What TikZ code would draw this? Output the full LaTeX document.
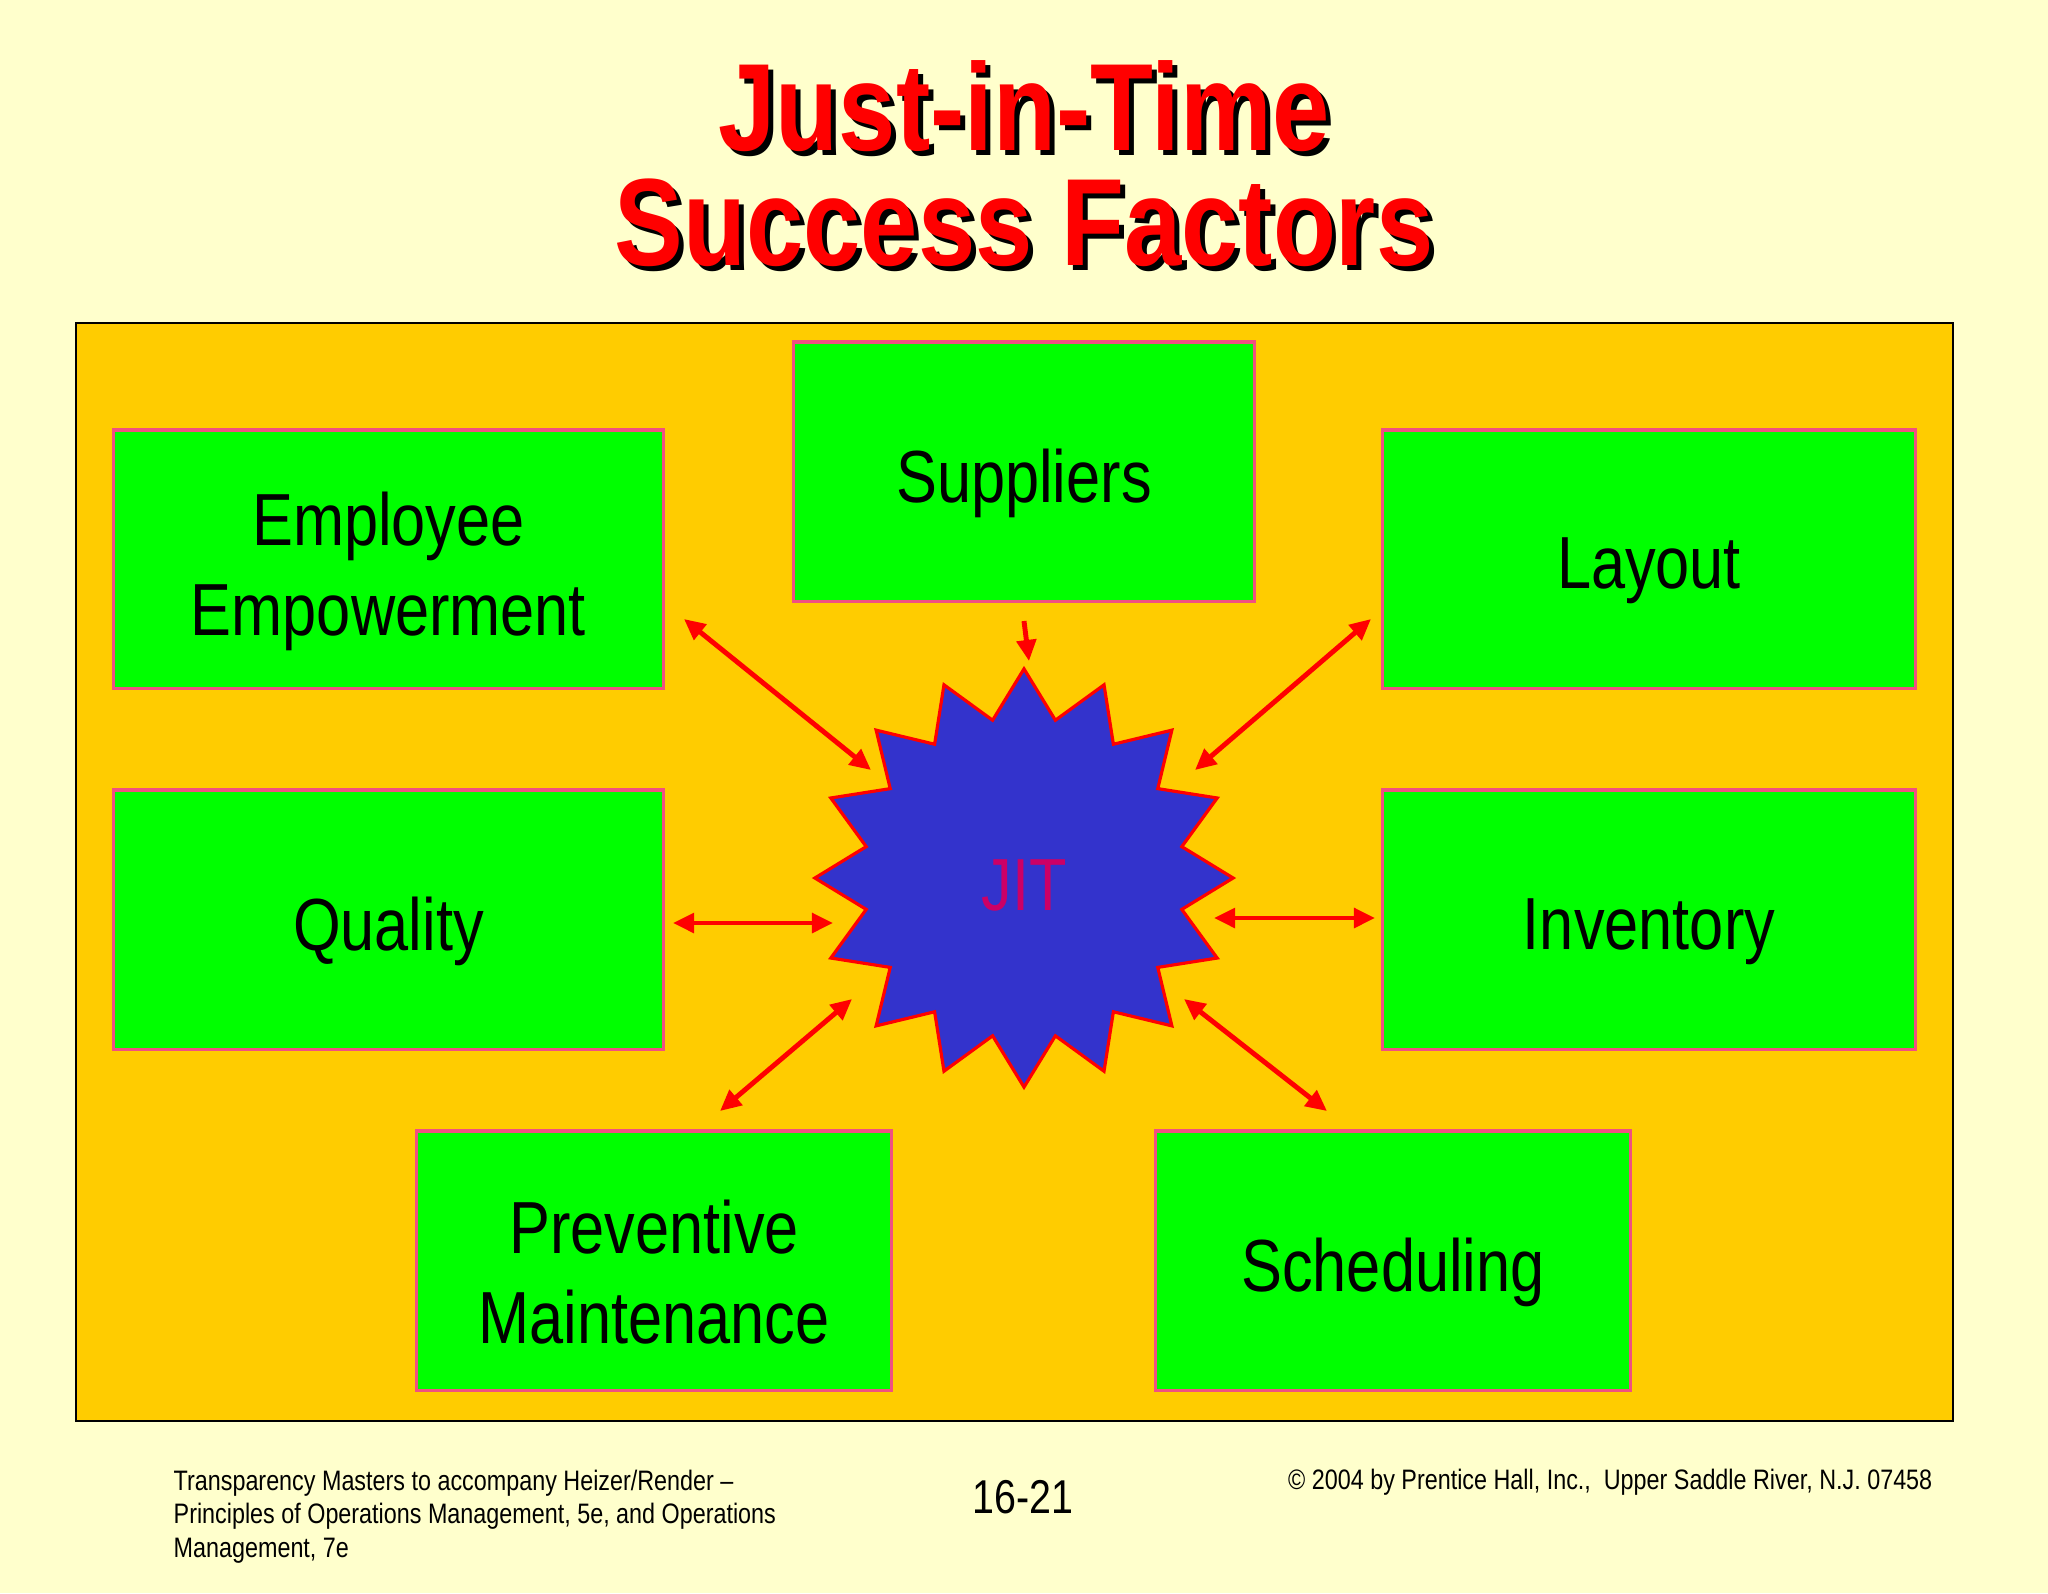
\documentclass[tikz,border=0pt]{standalone}
\usepackage{fontspec}
\setmainfont{Liberation Sans}[FakeStretch=0.83]
\usetikzlibrary{shapes.geometric,arrows.meta}

\definecolor{fond}{RGB}{255,255,204}
\definecolor{panneau}{RGB}{255,204,0}
\definecolor{vert}{RGB}{0,255,0}
\definecolor{bord}{RGB}{240,80,130}
\definecolor{bleu}{RGB}{51,51,204}
\definecolor{rouge}{RGB}{255,0,0}
\definecolor{lettres}{RGB}{204,0,102}

\tikzset{facteur/.style={draw=bord,line width=0.9pt,fill=vert,inner sep=0pt},
  texte/.style={align=center,inner sep=0pt,yshift=-0.12cm,
    font=\fontsize{21}{25.6}\selectfont},
  lien/.style={draw=rouge,line width=1.4pt,{Triangle[length=6pt,width=5.5pt]}-{Triangle[length=6pt,width=5.5pt]}},
  lienun/.style={draw=rouge,line width=1.4pt,-{Triangle[length=6pt,width=5.5pt]}}
}

\begin{document}
\begin{tikzpicture}[x=0.01cm,y=-0.01cm,
    titre/.style={anchor=base,inner sep=0pt,font=\fontsize{35.3}{40}\selectfont\bfseries},
    pied/.style={inner sep=0pt,font=\fontsize{8}{9.6}\selectfont}]
    % Fond et cadre
    \useasboundingbox (0,0) rectangle (2048,1593);
    \fill[fond] (0,0) rectangle (2048,1593);
    \draw[fill=panneau,line width=0.6pt] (76,323) rectangle (1953,1421);

    % Titre avec son ombre
    \foreach \txt/\yb [count=\i] in {Just-in-Time/150,Success Factors/265}{
        \node[titre,text=black] (ombre\i) at (1029,\yb+5) {\txt};
        \node[titre,text=rouge] (titre\i) at (1024,\yb) {\txt};
    }

    % Les facteurs
    \node[facteur,minimum width=4.60cm,minimum height=2.59cm,
        label={[texte]center:Suppliers}] (sup) at (1024,471.5) {};
    \node[facteur,minimum width=5.49cm,minimum height=2.58cm,
        label={[texte]center:{Employee\\Empowerment}}] (emp) at (388.5,559) {};
    \node[facteur,minimum width=5.32cm,minimum height=2.58cm,
        label={[texte]center:Layout}] (lay) at (1649,559) {};
    \node[facteur,minimum width=5.49cm,minimum height=2.59cm,
        label={[texte]center:Quality}] (qua) at (388.5,919.5) {};
    \node[facteur,minimum width=5.32cm,minimum height=2.59cm,
        label={[texte]center:Inventory}] (inv) at (1649,919.5) {};
    \node[facteur,minimum width=4.74cm,minimum height=2.59cm,
        label={[texte]center:{Preventive\\Maintenance}}] (pre) at (654,1260.5) {};
    \node[facteur,minimum width=4.74cm,minimum height=2.59cm,
        label={[texte]center:Scheduling}] (sch) at (1393,1260.5) {};

    % L'étoile JIT
    \node[star,star points=16,star point ratio=1.3,minimum size=4.18cm,inner sep=0pt,
        fill=bleu,draw=rouge,line width=0.9pt,
        label={[texte,text=lettres,yshift=0.05cm]center:JIT}] (jit) at (1024,878) {};

    % Dessine les flèches
    \coordinate (e1) at (684,619);   \coordinate (e2) at (871,770);
    \coordinate (s1) at (1024,621);  \coordinate (s2) at (1029,661);
    \coordinate (l1) at (1371,619);  \coordinate (l2) at (1195,770);
    \coordinate (q1) at (673,923);   \coordinate (q2) at (833,923);
    \coordinate (i1) at (1214,918);  \coordinate (i2) at (1375,918);
    \coordinate (p1) at (720,1111);  \coordinate (p2) at (852,999);
    \coordinate (c1) at (1327,1111); \coordinate (c2) at (1184,999);
    \foreach \a/\b in {e1/e2,l1/l2,q1/q2,i1/i2,p1/p2,c1/c2}
        \draw[lien] (\a) -- (\b);
    \draw[lienun] (s1) -- (s2);

    % Bas de page
    \node[pied,anchor=north west,align=left] (source) at (173,1469)
        {Transparency Masters to accompany Heizer/Render --\\Principles of Operations Management, 5e, and Operations\\Management, 7e};
    \node[anchor=base,inner sep=0pt,font=\fontsize{13.5}{16}\selectfont] (numero) at (1023,1513) {16-21};
    \node[pied,anchor=base east] (droits) at (1933,1489) {© 2004 by Prentice Hall, Inc.,\ \ Upper Saddle River, N.J. 07458};
\end{tikzpicture}
\end{document}
